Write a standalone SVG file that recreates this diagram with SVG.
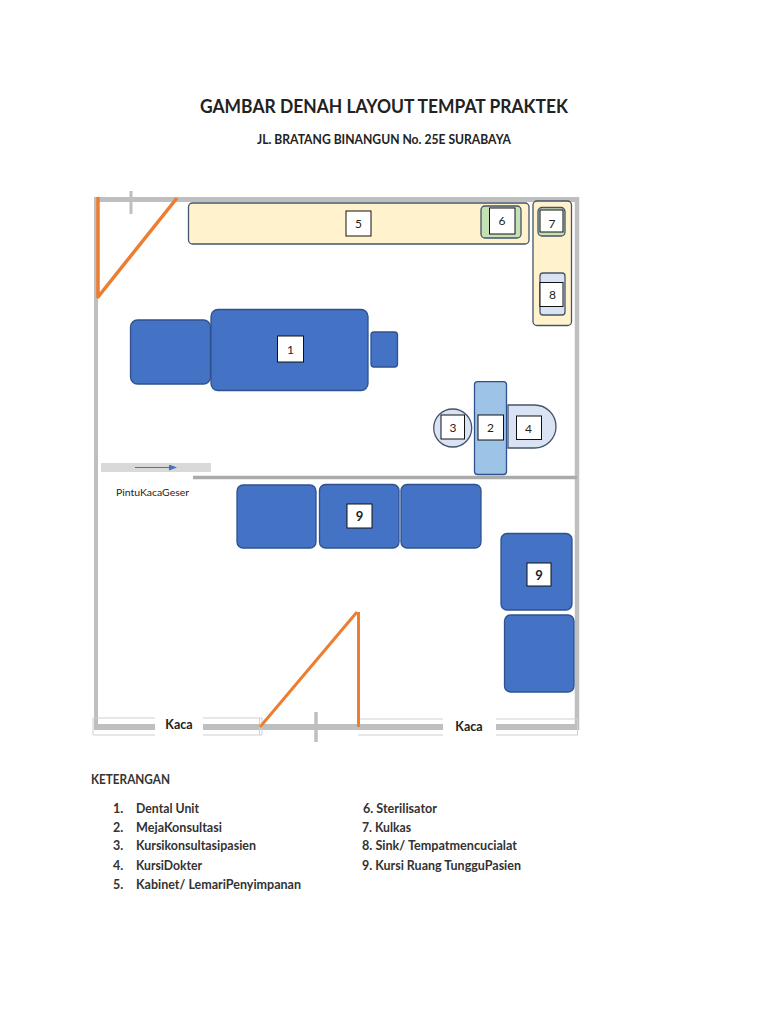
<svg xmlns="http://www.w3.org/2000/svg" width="768" height="1024" viewBox="0 0 768 1024">
<style>
text{font-family:Lato,"Open Sans","Liberation Sans",sans-serif;fill:#222}
.b{fill:#4472c4;stroke:#2f528f;stroke-width:1.3}
.y{fill:#fff2cc;stroke:#44546a;stroke-width:1.3}
.g{fill:#c5e0b4;stroke:#44546a;stroke-width:1.3}
.l{fill:#dae3f3;stroke:#44546a;stroke-width:1.3}
.m{fill:#9dc3e6;stroke:#2f528f;stroke-width:1.3}
.n{fill:#fff;stroke:#111;stroke-width:1}
.t{font-size:12px;text-anchor:middle}
.wall{stroke:#bfbfbf;fill:none}
.thin{stroke:#d0d0d0;stroke-width:1;fill:none}
.door{stroke:#ed7d31;fill:none;stroke-linejoin:round}
.leg{font-size:12.5px;font-weight:700;fill:#333}
</style>
<defs><marker id="ah" markerWidth="8" markerHeight="6" refX="7" refY="3" orient="auto" markerUnits="userSpaceOnUse"><path d="M0 0L8 3L0 6Z" fill="#4472c4"/></marker></defs>
<g id="heading">
<text x="200" y="113" font-size="19" font-weight="700" textLength="368" lengthAdjust="spacingAndGlyphs">GAMBAR DENAH LAYOUT TEMPAT PRAKTEK</text>
<text x="257" y="144" font-size="12.5" font-weight="700" textLength="254" lengthAdjust="spacingAndGlyphs">JL. BRATANG BINANGUN No. 25E SURABAYA</text>
</g>
<g id="walls">
<path class="wall" stroke-width="5" d="M96 199.500H579"/>
<path class="wall" stroke-width="4" d="M96 197V730"/>
<path class="wall" stroke-width="4.500" d="M577 197V730"/>
<path class="wall" stroke-width="3" d="M131 191V214"/>
<path stroke="#ababab" stroke-width="3.500" fill="none" d="M193 477.500H577"/>
<path class="wall" stroke-width="6" d="M96 727H155M203 727H443M496 727H577"/>
<path class="wall" stroke-width="3.500" d="M316 712V742"/>
<path class="thin" d="M93 718H155M93 735H155M93 718V735M203 718H262M203 735H262M259.500 718V735M262 718V735M358 719H443M358 735H443M496 719H578M496 735H578M577.500 719V735"/>
</g>
<g id="doors">
<path class="door" stroke-width="3.500" d="M98 197V297L177 198"/>
<path class="door" stroke-width="3" d="M260 727L357 612"/>
<path class="door" stroke-width="3" d="M358.500 612V727"/>
</g>
<g id="sliding-door">
<rect x="101" y="463" width="110" height="9" fill="#d9d9d9"/>
<path d="M135 467.500H176" stroke="#4472c4" stroke-width="1" marker-end="url(#ah)"/>
<text x="116" y="496" font-size="10" textLength="73" lengthAdjust="spacingAndGlyphs">PintuKacaGeser</text>
</g>
<g id="n5"><rect class="y" x="188.500" y="203" width="340.500" height="41" rx="4"/><rect class="n" x="346" y="211" width="25" height="25"/><text class="t" x="358.500" y="228">5</text></g>
<g id="n6"><rect class="g" x="481" y="206" width="40" height="32" rx="4"/><rect class="n" x="489.500" y="208" width="25.500" height="26"/><text class="t" x="502" y="225">6</text></g>
<g id="n78-cabinet"><rect class="y" x="533" y="201" width="38.500" height="124.500" rx="4"/></g>
<g id="n7"><rect class="g" x="538" y="207.500" width="27" height="28.500" rx="4"/><rect class="n" x="540" y="210" width="23" height="22"/><text class="t" x="552" y="228">7</text></g>
<g id="n8"><rect class="l" x="540" y="273" width="25" height="42" rx="3"/><rect class="n" x="540" y="282.500" width="23" height="24"/><text class="t" x="552.500" y="299">8</text></g>
<g id="n1">
<rect class="b" x="130.500" y="320" width="80" height="64" rx="7"/>
<rect class="b" x="211" y="309.500" width="157" height="81" rx="7"/>
<rect class="b" x="371" y="332" width="26.500" height="35" rx="3"/>
<rect class="n" x="277.500" y="336" width="26" height="26"/><text class="t" x="290.500" y="354">1</text>
</g>
<g id="n3"><circle class="l" cx="452.700" cy="428" r="19"/><rect class="n" x="441" y="415" width="23.500" height="24"/><text class="t" x="453" y="432">3</text></g>
<g id="n2"><rect class="m" x="474.500" y="381.700" width="32" height="92.800" rx="3"/><rect class="n" x="478" y="415" width="25.500" height="25"/><text class="t" x="490.500" y="432">2</text></g>
<g id="n4"><path class="l" d="M508 405H534.500A21.500 21.500 0 0 1 534.500 448H508Z"/><rect class="n" x="516.500" y="416" width="25" height="23.500"/><text class="t" x="528.500" y="433">4</text></g>
<g id="n9-row">
<rect class="b" x="237" y="485" width="79" height="63" rx="6"/>
<rect class="b" x="319.500" y="484.500" width="79.500" height="63.500" rx="6"/>
<rect class="b" x="401" y="484.500" width="80" height="63.500" rx="6"/>
<rect class="n" x="347" y="504" width="25" height="24"/><text x="359.500" y="521" font-size="13" font-weight="700" text-anchor="middle">9</text>
</g>
<g id="n9-side">
<rect class="b" x="501" y="533.500" width="71" height="76.500" rx="6"/>
<rect class="n" x="527" y="563" width="24" height="23"/><text x="539" y="580" font-size="13" font-weight="700" text-anchor="middle">9</text>
<rect class="b" x="504.500" y="615" width="69.500" height="77" rx="6"/>
</g>
<g id="glass-labels">
<text x="179" y="729" font-size="12.500" font-weight="700" text-anchor="middle">Kaca</text>
<text x="469" y="731" font-size="12.500" font-weight="700" text-anchor="middle">Kaca</text>
</g>
<g id="legend">
<text class="leg" x="91" y="784" textLength="79" lengthAdjust="spacingAndGlyphs">KETERANGAN</text>
<text class="leg" x="113" y="813">1.</text><text class="leg" x="136" y="813" textLength="63" lengthAdjust="spacingAndGlyphs">Dental Unit</text>
<text class="leg" x="113" y="832">2.</text><text class="leg" x="136" y="832" textLength="86" lengthAdjust="spacingAndGlyphs">MejaKonsultasi</text>
<text class="leg" x="113" y="850">3.</text><text class="leg" x="136" y="850" textLength="120" lengthAdjust="spacingAndGlyphs">Kursikonsultasipasien</text>
<text class="leg" x="113" y="870">4.</text><text class="leg" x="136" y="870" textLength="66" lengthAdjust="spacingAndGlyphs">KursiDokter</text>
<text class="leg" x="113" y="889">5.</text><text class="leg" x="136" y="889" textLength="165" lengthAdjust="spacingAndGlyphs">Kabinet/ LemariPenyimpanan</text>
<text class="leg" x="363" y="813" textLength="74" lengthAdjust="spacingAndGlyphs">6. Sterilisator</text>
<text class="leg" x="362" y="832" textLength="49" lengthAdjust="spacingAndGlyphs">7. Kulkas</text>
<text class="leg" x="362" y="850" textLength="155" lengthAdjust="spacingAndGlyphs">8. Sink/ Tempatmencucialat</text>
<text class="leg" x="362" y="870" textLength="159" lengthAdjust="spacingAndGlyphs">9. Kursi Ruang TungguPasien</text>
</g>
</svg>
